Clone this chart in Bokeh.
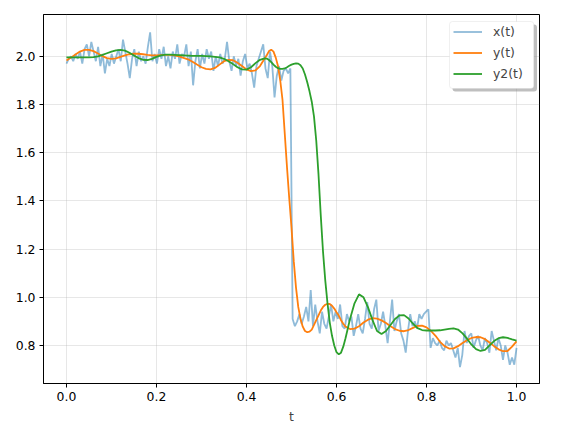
import numpy as np
from bokeh.plotting import figure
from bokeh.models import Range1d, FixedTicker, PrintfTickFormatter, Legend, LegendItem, BoxAnnotation
from bokeh.embed import file_html
from bokeh.resources import INLINE

# ---- data ----
x_high = [1.97, 1.99, 2.00, 1.98, 2.01, 1.99, 2.02, 1.97, 2.03, 2.05,
          2.00, 2.06, 2.02, 1.98, 2.04, 1.96, 2.01, 1.93, 1.99, 1.96,
          2.01, 1.97, 2.00, 2.03, 1.98, 2.07, 2.02, 1.97, 1.91, 1.99,
          2.03, 1.96, 2.02, 1.98, 2.00, 1.97, 2.04, 2.10, 1.98, 2.01,
          1.97, 2.03, 1.99, 2.04, 1.96, 2.00, 1.95, 2.02, 1.99, 2.05,
          1.97, 2.01, 2.00, 2.05, 1.96, 2.02, 1.88, 1.98, 2.03, 1.95,
          2.01, 1.97, 2.03, 1.99, 2.02, 1.94, 2.00, 1.96, 2.01, 1.97,
          1.99, 2.06, 1.98, 1.94, 2.00, 1.96, 1.99, 1.92, 1.98, 2.01,
          1.95, 1.97, 1.93, 1.87, 1.96, 1.99, 2.02, 2.05, 1.95, 1.91,
          2.02, 1.96, 1.83, 1.92, 1.96, 1.90, 1.94, 1.95, 1.93, 1.95]
x_low = [0.91, 0.88, 0.90, 0.93, 0.89, 0.92, 0.96, 0.90, 1.03, 0.88,
         0.97, 0.90, 0.85, 0.94, 0.89, 0.87, 0.92, 0.97, 0.90, 0.94,
         0.91, 0.97, 0.88, 0.87, 0.93, 0.90, 0.92, 0.84, 0.88, 0.93,
         0.87, 0.85, 0.91, 0.98, 0.89, 0.87, 0.95, 0.99, 0.86, 0.89,
         0.94, 0.88, 0.81, 0.90, 0.99, 0.86, 0.90, 0.93, 0.85, 0.82,
         0.77, 0.86, 0.93, 0.88, 0.90, 0.87, 0.93, 0.91, 0.93, 0.94,
         0.95, 0.79, 0.83, 0.81, 0.80, 0.82, 0.79, 0.78, 0.82, 0.80,
         0.81, 0.78, 0.75, 0.79, 0.71, 0.76, 0.86, 0.81, 0.84, 0.85,
         0.79, 0.82, 0.84, 0.80, 0.78, 0.83, 0.81, 0.77, 0.86, 0.82,
         0.78, 0.83, 0.80, 0.74, 0.80, 0.77, 0.72, 0.75, 0.72, 0.79]
x_vals = x_high + x_low
t_x = np.linspace(0.0, 1.0, len(x_vals))

t_f = [0.00, 0.01, 0.02, 0.03, 0.04, 0.05, 0.06, 0.07, 0.08, 0.09,
       0.10, 0.11, 0.12, 0.13, 0.14, 0.15, 0.16, 0.17, 0.18, 0.19,
       0.20, 0.21, 0.22, 0.23, 0.24, 0.25, 0.26, 0.27, 0.28, 0.29,
       0.30, 0.31, 0.32, 0.33, 0.34, 0.35, 0.36, 0.37, 0.38, 0.39,
       0.40, 0.41, 0.42, 0.43, 0.44, 0.445, 0.450, 0.455, 0.460, 0.465,
       0.470, 0.475, 0.480, 0.485, 0.490, 0.495, 0.500, 0.505, 0.510, 0.515,
       0.520, 0.525, 0.530, 0.535, 0.540, 0.545, 0.550, 0.555, 0.560, 0.565,
       0.570, 0.575, 0.580, 0.585, 0.590, 0.595, 0.600, 0.605, 0.610, 0.615,
       0.620, 0.63, 0.64, 0.65, 0.66, 0.67, 0.68, 0.69, 0.70, 0.71,
       0.72, 0.73, 0.74, 0.75, 0.76, 0.77, 0.78, 0.79, 0.80, 0.81,
       0.82, 0.83, 0.84, 0.85, 0.86, 0.87, 0.88, 0.89, 0.90, 0.91,
       0.92, 0.93, 0.94, 0.95, 0.96, 0.97, 0.98, 0.99, 1.00]

y_vals = [1.983, 1.995, 2.008, 2.020, 2.027, 2.027, 2.022, 2.012, 2.001, 1.993,
          1.990, 1.992, 1.998, 2.004, 2.009, 2.011, 2.011, 2.009, 2.006, 2.004,
          2.004, 2.005, 2.006, 2.006, 2.004, 2.000, 1.994, 1.988, 1.978, 1.966,
          1.955, 1.948, 1.946, 1.952, 1.966, 1.980, 1.986, 1.984, 1.974, 1.960,
          1.946, 1.939, 1.942, 1.960, 1.990, 2.005, 2.022, 2.028, 2.020, 1.995,
          1.960, 1.900, 1.820, 1.680, 1.540, 1.410, 1.290, 1.150, 1.040, 0.960,
          0.910, 0.878, 0.860, 0.855, 0.857, 0.866, 0.885, 0.905, 0.925, 0.945,
          0.960, 0.969, 0.973, 0.972, 0.965, 0.953, 0.938, 0.924, 0.905, 0.890,
          0.878, 0.868, 0.870, 0.880, 0.895, 0.907, 0.913, 0.911, 0.904, 0.893,
          0.880, 0.868, 0.861, 0.859, 0.864, 0.873, 0.881, 0.882, 0.875, 0.860,
          0.840, 0.815, 0.797, 0.787, 0.788, 0.797, 0.810, 0.822, 0.831, 0.835,
          0.834, 0.826, 0.812, 0.797, 0.784, 0.776, 0.777, 0.795, 0.817]

y2_vals = [1.996, 1.996, 1.996, 1.996, 1.996, 1.996, 1.997, 2.000, 2.006, 2.013,
           2.020, 2.025, 2.027, 2.024, 2.015, 2.004, 1.993, 1.986, 1.985, 1.990,
           1.998, 2.004, 2.007, 2.007, 2.006, 2.005, 2.004, 2.003, 2.002, 2.002,
           2.002, 2.001, 2.000, 1.998, 1.996, 1.990, 1.980, 1.968, 1.955, 1.946,
           1.945, 1.955, 1.972, 1.986, 1.992, 1.991, 1.985, 1.976, 1.966, 1.957,
           1.951, 1.948, 1.948, 1.950, 1.955, 1.961, 1.966, 1.969, 1.971, 1.970,
           1.963, 1.950, 1.925, 1.893, 1.855, 1.812, 1.750, 1.650, 1.510, 1.340,
           1.190, 1.070, 0.975, 0.895, 0.840, 0.800, 0.772, 0.763, 0.770, 0.795,
           0.830, 0.910, 0.975, 1.012, 1.000, 0.958, 0.905, 0.860, 0.848, 0.860,
           0.885, 0.910, 0.925, 0.926, 0.912, 0.890, 0.872, 0.864, 0.862, 0.862,
           0.862, 0.863, 0.866, 0.869, 0.871, 0.866, 0.850, 0.828, 0.803, 0.785,
           0.777, 0.782, 0.800, 0.818, 0.830, 0.834, 0.831, 0.825, 0.820]

x_ticks = [0.0, 0.2, 0.4, 0.6, 0.8, 1.0]
y_ticks = [0.8, 1.0, 1.2, 1.4, 1.6, 1.8, 2.0]
labels = ["x(t)", "y(t)", "y2(t)"]

# ---- layout constants ----
FONT = "DejaVu Sans"
FW, FH = 496, 369            # frame size in px
XMIN, XMAX = -0.051, 1.051
YMIN, YMAX = 0.642, 2.174
p = figure(width=43 + FW + 24, height=14 + FH + 43, output_backend="svg", toolbar_location=None,
           x_range=Range1d(XMIN, XMAX), y_range=Range1d(YMIN, YMAX),
           min_border_left=43, min_border_right=24, min_border_top=14, min_border_bottom=43)
p.title.visible = False
p.background_fill_color = "white"
p.border_fill_color = "white"
p.outline_line_color = "black"
p.outline_line_width = 1
p.outline_line_alpha = 1.0

r_x = p.line(t_x, x_vals, line_color="#1f77b4", line_alpha=0.5, line_width=1.8)
r_y = p.line(t_f, y_vals, line_color="#ff7f0e", line_width=1.8)
r_y2 = p.line(t_f, y2_vals, line_color="#2ca02c", line_width=1.8)

for ax in (p.xaxis[0], p.yaxis[0]):
    ax.axis_line_color = "black"
    ax.major_tick_line_color = "black"
    ax.major_tick_out = 4
    ax.major_tick_in = 0
    ax.minor_tick_line_color = None
    ax.major_label_text_font = FONT
    ax.major_label_text_font_size = "12.4px"
    ax.major_label_text_color = "black"
    ax.major_label_standoff = 4
    ax.formatter = PrintfTickFormatter(format="%.1f")

p.xaxis[0].ticker = FixedTicker(ticks=x_ticks)
p.yaxis[0].ticker = FixedTicker(ticks=y_ticks)
p.xaxis[0].axis_label = "t"
p.xaxis[0].axis_label_text_font = FONT
p.xaxis[0].axis_label_text_font_size = "12.4px"
p.xaxis[0].axis_label_text_font_style = "normal"
p.xaxis[0].axis_label_standoff = 5

p.xgrid[0].ticker = FixedTicker(ticks=x_ticks)
p.ygrid[0].ticker = FixedTicker(ticks=y_ticks)
for g in (p.xgrid[0], p.ygrid[0]):
    g.grid_line_color = "#b0b0b0"
    g.grid_line_alpha = 0.3
    g.grid_line_width = 1

# legend frame drawn as boxes (frame-pixel positions converted to data units)
def fx(px):
    return XMIN + px * (XMAX - XMIN) / FW

def fy(py):
    return YMAX - py * (YMAX - YMIN) / FH

has_radius = "border_radius" in BoxAnnotation.properties()
shadow = BoxAnnotation(left=fx(409), right=fx(493.5), top=fy(10), bottom=fy(77),
                       fill_color="#808080", fill_alpha=0.5, line_color=None)
box = BoxAnnotation(left=fx(406), right=fx(490.3), top=fy(7), bottom=fy(74),
                    fill_color="white", fill_alpha=1.0, line_color="#cccccc", line_width=1)
if has_radius:
    shadow.border_radius = 3
    box.border_radius = 3
p.add_layout(shadow)
p.add_layout(box)

legend = Legend(items=[LegendItem(label=labels[0], renderers=[r_x]),
                       LegendItem(label=labels[1], renderers=[r_y]),
                       LegendItem(label=labels[2], renderers=[r_y2])],
                location=(410, FH - 7 - 63))
legend.label_text_font = FONT
legend.label_text_font_size = "12.4px"
legend.glyph_width = 29
legend.glyph_height = 21
legend.label_height = 21
legend.label_standoff = 11
legend.spacing = 0
legend.padding = 0
legend.margin = 0
legend.border_line_color = None
legend.background_fill_alpha = 0.0
p.add_layout(legend)

open("out.html", "w").write(file_html(p, INLINE))
